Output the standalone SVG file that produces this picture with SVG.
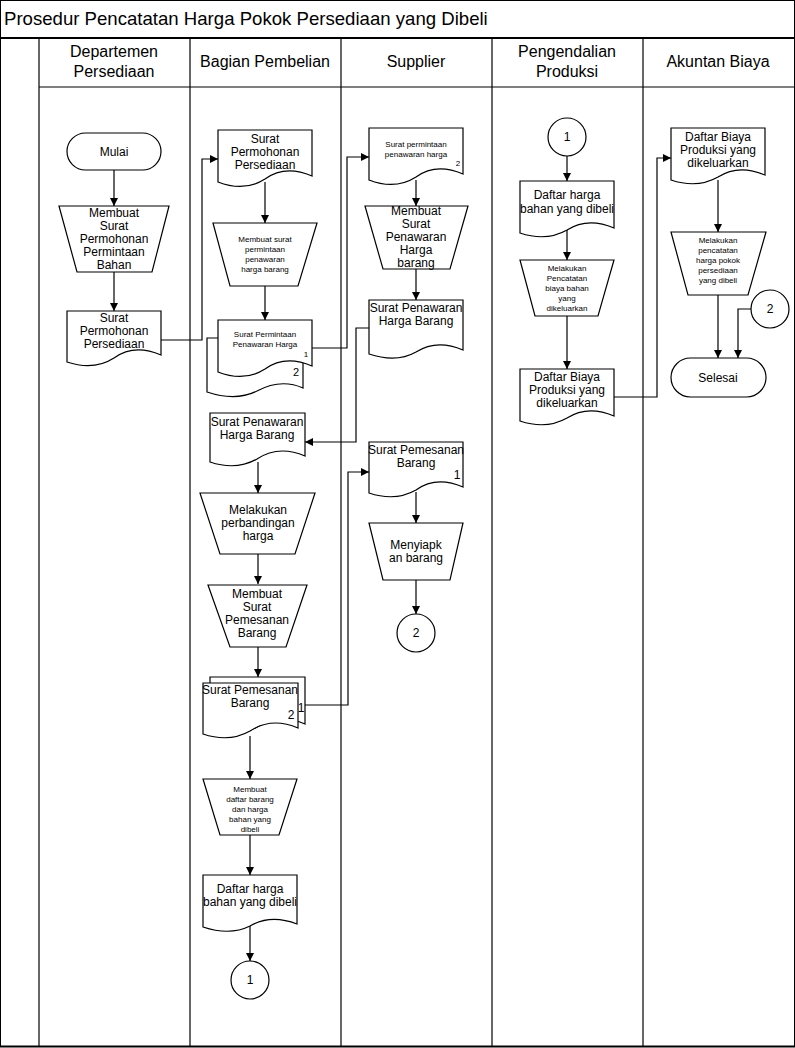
<svg xmlns="http://www.w3.org/2000/svg" width="795" height="1048" viewBox="0 0 795 1048">
<defs>
<marker id="ah" viewBox="0 0 10 10" refX="10" refY="5" markerWidth="7" markerHeight="7" orient="auto"><path d="M0,0 L10,5 L0,10 z" fill="#000"/></marker>
</defs>
<style>
.s{fill:#fff;stroke:#000;stroke-width:1.2}
.c{fill:none;stroke:#000;stroke-width:1.2;marker-end:url(#ah)}
text{font-family:"Liberation Sans",Arial,sans-serif;fill:#000;text-anchor:middle}
.t12{font-size:12px}.t8{font-size:8px}.h{font-size:16px}
</style>
<rect x="0.5" y="0.5" width="794" height="1046" fill="#fff" stroke="#000"/>
<text x="4" y="25" style="font-size:18.6px;text-anchor:start">Prosedur Pencatatan Harga Pokok Persediaan yang Dibeli</text>
<line x1="0" y1="38" x2="795" y2="38" stroke="#000" stroke-width="2"/>
<g stroke="#000" stroke-width="1.2">
<line x1="39" y1="38" x2="39" y2="1047"/><line x1="190" y1="38" x2="190" y2="1047"/><line x1="341" y1="38" x2="341" y2="1047"/><line x1="492" y1="38" x2="492" y2="1047"/><line x1="643" y1="38" x2="643" y2="1047"/>
<line x1="39" y1="87" x2="795" y2="87"/>
</g>
<line x1="0" y1="1046.5" x2="795" y2="1046.5" stroke="#000" stroke-width="2"/>
<g class="h"><text x="114" y="57">Departemen</text><text x="114" y="77">Persediaan</text><text x="265" y="67">Bagian Pembelian</text><text x="416" y="67">Supplier</text><text x="567" y="57">Pengendalian</text><text x="567" y="77">Produksi</text><text x="718" y="67">Akuntan Biaya</text></g>

<g id="connectors">
<path class="c" d="M114,170 V206"/>
<path class="c" d="M114,272 V311"/>
<path class="c" d="M161,340 H202 V159 H218"/>
<path class="c" d="M265,182 V223"/>
<path class="c" d="M265,286 V320"/>
<path class="c" d="M312,348 H347 V157 H369"/>
<path class="c" d="M416,180 V206"/>
<path class="c" d="M416,269 V300"/>
<path class="c" d="M369,328 H356 V442 H305"/>
<path class="c" d="M258,462 V493"/>
<path class="c" d="M258,554 V584"/>
<path class="c" d="M258,647 V677"/>
<path class="c" d="M305,705 H348 V472 H369"/>
<path class="c" d="M416,492 V523"/>
<path class="c" d="M416,580 V614"/>
<path class="c" d="M250,736 V779"/>
<path class="c" d="M250,835 V875"/>
<path class="c" d="M250,922 V961"/>
<path class="c" d="M567,156 V181"/>
<path class="c" d="M567,230 V260"/>
<path class="c" d="M567,316 V369"/>
<path class="c" d="M614,397 H657 V158 H671"/>
<path class="c" d="M718,180 V232"/>
<path class="c" d="M718,295 V358"/>
<path class="c" d="M751,309 H738 V358"/>
</g>

<g id="mulai"><rect class="s" x="67" y="133" width="94" height="37" rx="18.5"/><text class="t12" x="114" y="156">Mulai</text></g>
<g id="membuat-spp"><path class="s" d="M59,206 H169 L152,272 H77 Z"/><text class="t12"><tspan x="114" y="217">Membuat</tspan><tspan x="114" y="230">Surat</tspan><tspan x="114" y="243">Permohonan</tspan><tspan x="114" y="256">Permintaan</tspan><tspan x="114" y="269">Bahan</tspan></text></g>
<g id="doc-spp1"><path class="s" d="M67,311 H161 V355 C140,346 125,350 114,358 C100,367 85,368 67,362 Z"/><text class="t12"><tspan x="114" y="322">Surat</tspan><tspan x="114" y="335">Permohonan</tspan><tspan x="114" y="348">Persediaan</tspan></text></g>

<g id="doc-spp2"><path class="s" d="M218,130 H312 V176 C291,167 276,171 265,179 C251,188 236,189 218,182 Z"/><text class="t12"><tspan x="265" y="143">Surat</tspan><tspan x="265" y="156">Permohonan</tspan><tspan x="265" y="169">Persediaan</tspan></text></g>
<g id="membuat-sph"><path class="s" d="M213,223 H317 L298,286 H230 Z"/><text class="t8"><tspan x="265" y="242">Membuat surat</tspan><tspan x="265" y="252">permintaan</tspan><tspan x="265" y="262">penawaran</tspan><tspan x="265" y="272">harga barang</tspan></text></g>
<g id="doc-sph-multi"><path class="s" d="M207,338 H303 V388 C285,380 270,384 257,391 C243,398 225,398 207,392 Z"/><path class="s" d="M218,320 H312 V366 C291,357 276,361 265,369 C251,378 236,379 218,372 Z"/><text class="t8"><tspan x="265" y="337">Surat Permintaan</tspan><tspan x="265" y="347">Penawaran Harga</tspan></text><text class="t8" x="306" y="357">1</text><text x="296" y="376" style="font-size:11px">2</text></g>
<g id="doc-spnh2"><path class="s" d="M210,413 H305 V456 C284,447 269,451 257,459 C243,467 228,468 210,462 Z"/><text class="t12"><tspan x="257" y="426">Surat Penawaran</tspan><tspan x="257" y="439">Harga Barang</tspan></text></g>
<g id="melakukan-perbandingan"><path class="s" d="M200,493 H315 L295,554 H220 Z"/><text class="t12"><tspan x="258" y="514">Melakukan</tspan><tspan x="258" y="527">perbandingan</tspan><tspan x="258" y="540">harga</tspan></text></g>
<g id="membuat-spb"><path class="s" d="M208,585 H307 L286,647 H230 Z"/><text class="t12"><tspan x="257" y="598">Membuat</tspan><tspan x="257" y="611">Surat</tspan><tspan x="257" y="624">Pemesanan</tspan><tspan x="257" y="637">Barang</tspan></text></g>
<g id="doc-spb-multi"><path class="s" d="M210,677 H305 V724 C284,715 269,719 257,727 C243,735 228,736 210,730 Z"/><path class="s" d="M203,683 H298 V728 C277,719 262,723 250,731 C236,739 221,740 203,734 Z"/><text class="t12"><tspan x="250" y="694">Surat Pemesanan</tspan><tspan x="250" y="707">Barang</tspan></text><text class="t12" x="291" y="719">2</text><text class="t12" x="301" y="712">1</text></g>
<g id="membuat-daftar"><path class="s" d="M203,779 H297 L279,835 H220 Z"/><text class="t8"><tspan x="250" y="792">Membuat</tspan><tspan x="250" y="802">daftar barang</tspan><tspan x="250" y="812">dan harga</tspan><tspan x="250" y="822">bahan yang</tspan><tspan x="250" y="832">dibeli</tspan></text></g>
<g id="doc-daftar1"><path class="s" d="M203,875 H297 V924 C276,916 262,919 250,926 C236,933 221,933 203,927 Z"/><text class="t12"><tspan x="250" y="893">Daftar harga</tspan><tspan x="250" y="906">bahan yang dibeli</tspan></text></g>
<g id="conn1-a"><circle class="s" cx="250" cy="980" r="19"/><text class="t12" x="250" y="984">1</text></g>

<g id="doc-sup-sph"><path class="s" d="M369,128 H463 V174 C442,165 427,169 416,177 C402,186 387,187 369,180 Z"/><text class="t8"><tspan x="416" y="147">Surat permintaan</tspan><tspan x="416" y="157">penawaran harga</tspan></text><text class="t8" x="458" y="166">2</text></g>
<g id="membuat-spnh"><path class="s" d="M365,206 H468 L450,269 H383 Z"/><text class="t12"><tspan x="416" y="215">Membuat</tspan><tspan x="416" y="228">Surat</tspan><tspan x="416" y="241">Penawaran</tspan><tspan x="416" y="254">Harga</tspan><tspan x="416" y="267">barang</tspan></text></g>
<g id="doc-spnh1"><path class="s" d="M369,300 H463 V350 C442,341 427,345 416,352 C402,360 387,360 369,354 Z"/><text class="t12"><tspan x="416" y="312">Surat Penawaran</tspan><tspan x="416" y="325">Harga Barang</tspan></text></g>
<g id="doc-sup-spb"><path class="s" d="M369,442 H463 V487 C442,478 427,482 416,490 C402,498 387,499 369,493 Z"/><text class="t12"><tspan x="416" y="454">Surat Pemesanan</tspan><tspan x="416" y="467">Barang</tspan></text><text class="t12" x="457" y="479">1</text></g>
<g id="menyiapkan"><path class="s" d="M369,523 H463 L450,580 H383 Z"/><text class="t12"><tspan x="416" y="549">Menyiapk</tspan><tspan x="416" y="562">an barang</tspan></text></g>
<g id="conn2-a"><circle class="s" cx="416" cy="633" r="19"/><text class="t12" x="416" y="637">2</text></g>

<g id="conn1-b"><circle class="s" cx="567" cy="137" r="19"/><text class="t12" x="567" y="141">1</text></g>
<g id="doc-daftar2"><path class="s" d="M520,181 H614 V228 C593,219 578,223 567,230 C553,238 538,239 520,233 Z"/><text class="t12"><tspan x="567" y="199">Daftar harga</tspan><tspan x="567" y="213">bahan yang dibeli</tspan></text></g>
<g id="melakukan-pencatatan-biaya"><path class="s" d="M520,260 H614 L598,316 H535 Z"/><text class="t8"><tspan x="567" y="271">Melakukan</tspan><tspan x="567" y="281">Pencatatan</tspan><tspan x="567" y="291">biaya bahan</tspan><tspan x="567" y="301">yang</tspan><tspan x="567" y="311">dikeluarkan</tspan></text></g>
<g id="doc-dbp1"><path class="s" d="M520,369 H614 V416 C593,407 578,411 567,418 C553,426 538,427 520,421 Z"/><text class="t12"><tspan x="567" y="381">Daftar Biaya</tspan><tspan x="567" y="394">Produksi yang</tspan><tspan x="567" y="407">dikeluarkan</tspan></text></g>

<g id="doc-dbp2"><path class="s" d="M671,128 H765 V175 C744,166 729,170 718,177 C704,185 689,186 671,180 Z"/><text class="t12"><tspan x="718" y="141">Daftar Biaya</tspan><tspan x="718" y="154">Produksi yang</tspan><tspan x="718" y="167">dikeluarkan</tspan></text></g>
<g id="melakukan-pencatatan-hpp"><path class="s" d="M671,232 H766 L748,295 H688 Z"/><text class="t8"><tspan x="718" y="243">Melakukan</tspan><tspan x="718" y="253">pencatatan</tspan><tspan x="718" y="263">harga pokok</tspan><tspan x="718" y="273">persediaan</tspan><tspan x="718" y="283">yang dibeli</tspan></text></g>
<g id="conn2-b"><circle class="s" cx="770" cy="309" r="19"/><text class="t12" x="770" y="313">2</text></g>
<g id="selesai"><rect class="s" x="671" y="358" width="95" height="39" rx="19.5"/><text class="t12" x="718" y="382">Selesai</text></g>
</svg>
